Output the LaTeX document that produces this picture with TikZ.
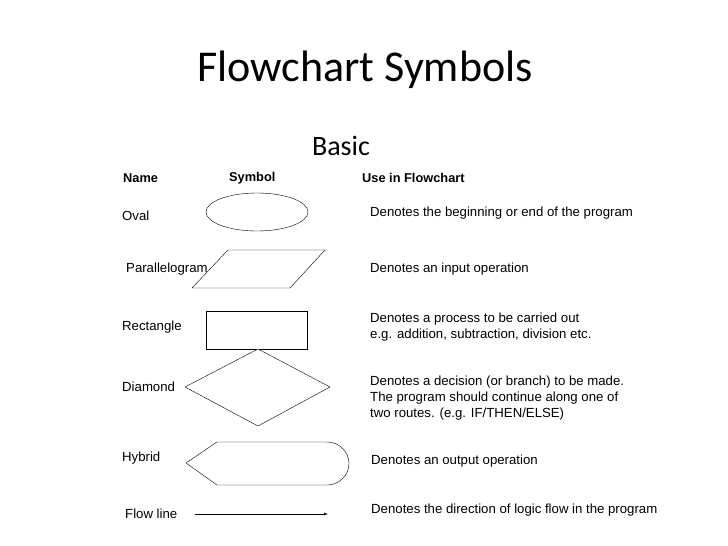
\documentclass[tikz,border=0pt]{standalone}
\usepackage{fontspec}
\setmainfont{Liberation Sans}
\newfontfamily\calfont{Carlito}
\begin{document}
\begin{tikzpicture}[x=1pt,y=-1pt,
  lbl/.style={anchor=west,font=\fontsize{13.2}{16}\selectfont,align=left,inner sep=0pt},
  hd/.style={lbl,font=\bfseries\fontsize{12.8}{16}\selectfont},
  sym/.style={draw,thin,fill=white}]
\useasboundingbox (0,0) rectangle (728,546);
\node (title) at (365,70) {\calfont\fontsize{44}{50}\selectfont Flowchart Symbols};
\node (basic) at (341,146) {\calfont\fontsize{28}{32}\selectfont Basic};
\node[hd] (h1) at (123,178) {Name};
\node[hd] (h2) at (229,178) {Symbol};
\node[hd] (h3) at (362,178) {Use in Flowchart};
\node[lbl] (n1) at (122,216) {Oval};
\node[lbl] (n2) at (126,269) {Parallelogram};
\node[lbl] (n3) at (122,327) {Rectangle};
\node[lbl] (n4) at (122,387) {Diamond};
\node[lbl] (n5) at (122,458) {Hybrid};
\node[lbl] (n6) at (125,514) {Flow line};
\node[lbl] (d1) at (370,213) {Denotes the beginning or end of the program};
\node[lbl] (d2) at (370,269) {Denotes an input operation};
\node[lbl] (d3) at (370,327) {Denotes a process to be carried out\\e.g. addition, subtraction, division etc.};
\node[lbl] (d4) at (370,398) {Denotes a decision (or branch) to be made.\\The program should continue along one of\\two routes. (e.g. IF/THEN/ELSE)};
\node[lbl] (d5) at (371,461) {Denotes an output operation};
\node[lbl] (d6) at (371,510) {Denotes the direction of logic flow in the program};
\draw[sym] (257,212) ellipse [x radius=51, y radius=19];
\draw[sym] (228,250) -- (325,250) -- (290,288) -- (192,288) -- cycle;
\draw[sym] (206,311) rectangle (307,349);
\draw[sym] (258,349) -- (330,387) -- (258,426) -- (185,387) -- cycle;
\draw[sym] (186,463) -- (217,442) -- (327,442) arc[start angle=90,end angle=-90,x radius=22,y radius=-21.5] -- (217,485) -- cycle;
\coordinate (a1) at (195,514);
\coordinate (a2) at (328,514);
\draw[-latex] (a1) -- (a2);
\end{tikzpicture}
\end{document}
